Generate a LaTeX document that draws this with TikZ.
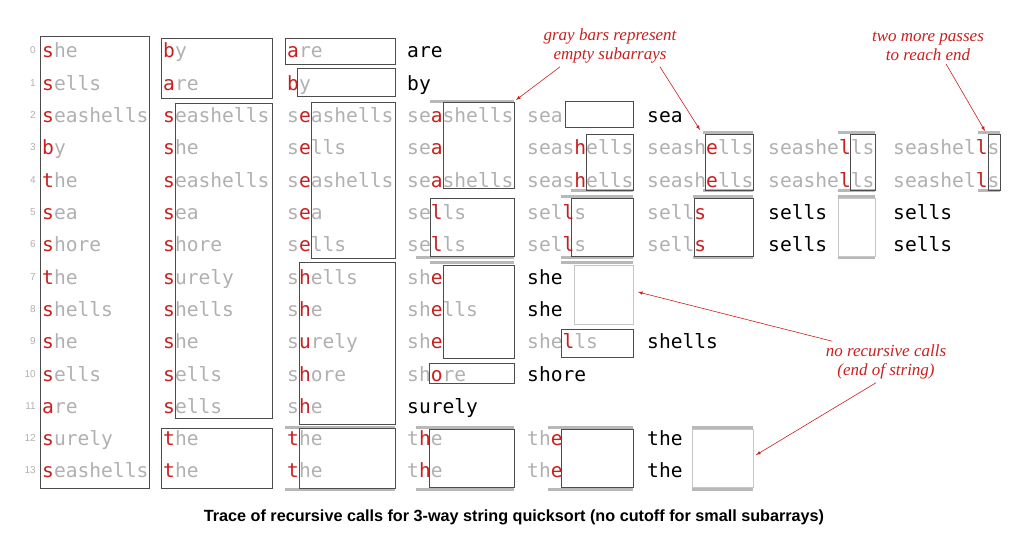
\documentclass[tikz,border=0pt]{standalone}
\usepackage{fontspec}
\usepackage{tikz}
\usetikzlibrary{arrows}
\setmainfont{Liberation Serif}
\setsansfont{Liberation Sans}
\newfontfamily\monofam{DejaVu Sans Mono}
\definecolor{keyred}{HTML}{C8201E}
\definecolor{dimtext}{HTML}{B0B0B0}
\newcommand{\keyword}[3]{{\color{dimtext}#1}{\color{keyred}#2}{\color{dimtext}#3}}
\begin{document}
\begin{tikzpicture}[x=1pt,y=-1pt,
  wd/.style={anchor=base west,inner sep=0pt,font=\monofam\fontsize{19.6}{20}\selectfont},
  idx/.style={anchor=base east,inner sep=0pt,text=dimtext,font=\sffamily\fontsize{10}{10}\selectfont},
  box/.style={draw=black!70,line width=0.8pt},
  ebox/.style={draw=black!22,line width=0.8pt},
  bar/.style={draw=black!28,line width=3pt},
  note/.style={align=center,text=keyred,font=\itshape\fontsize{17}{19}\selectfont},
  ann/.style={draw=keyred,line width=0.6pt,-latex}]
\useasboundingbox (0,0) rectangle (1019,534);
%% indices and first column
\foreach \r/\a/\b/\d in {0//s/he,1//s/ells,2//s/eashells,3//b/y,4//t/he,5//s/ea,6//s/hore,
    7//t/he,8//s/hells,9//s/he,10//s/ells,11//a/re,12//s/urely,13//s/eashells}{
  \node[idx] (i\r) at (36,{54+32.3*\r}) {\r};
  \node[wd] (c0r\r) at (42,{58+32.3*\r}) {\keyword{\a}{\b}{\d}};
}
\foreach \r/\a/\b/\d in {0//b/y,1//a/re,2//s/eashells,3//s/he,4//s/eashells,5//s/ea,6//s/hore,
    7//s/urely,8//s/hells,9//s/he,10//s/ells,11//s/ells,12//t/he,13//t/he}
  \node[wd] (c1r\r) at (163,{58+32.3*\r}) {\keyword{\a}{\b}{\d}};
\foreach \r/\a/\b/\d in {0//a/re,1//b/y,2/s/e/ashells,3/s/e/lls,4/s/e/ashells,5/s/e/a,6/s/e/lls,
    7/s/h/ells,8/s/h/e,9/s/u/rely,10/s/h/ore,11/s/h/e,12//t/he,13//t/he}
  \node[wd] (c2r\r) at (287,{58+32.3*\r}) {\keyword{\a}{\b}{\d}};
\foreach \r/\a/\b/\d in {2/se/a/shells,3/se/a/,4/se/a/shells,5/se/l/ls,6/se/l/ls,
    7/sh/e/,8/sh/e/lls,9/sh/e/,10/sh/o/re,12/t/h/e,13/t/h/e}
  \node[wd] (c3r\r) at (407,{58+32.3*\r}) {\keyword{\a}{\b}{\d}};
\foreach \r/\a/\b/\d in {2/sea//,3/seas/h/ells,4/seas/h/ells,5/sel/l/s,6/sel/l/s,
    9/she/l/ls,12/th/e/,13/th/e/}
  \node[wd] (c4r\r) at (527,{58+32.3*\r}) {\keyword{\a}{\b}{\d}};
\foreach \r/\a/\b/\d in {3/seash/e/lls,4/seash/e/lls,5/sell/s/,6/sell/s/}
  \node[wd] (c5r\r) at (647,{58+32.3*\r}) {\keyword{\a}{\b}{\d}};
\foreach \r/\a/\b/\d in {3/seashe/l/ls,4/seashe/l/ls}
  \node[wd] (c6r\r) at (768,{58+32.3*\r}) {\keyword{\a}{\b}{\d}};
\foreach \r/\a/\b/\d in {3/seashel/l/s,4/seashel/l/s}
  \node[wd] (c7r\r) at (893,{58+32.3*\r}) {\keyword{\a}{\b}{\d}};
%% sorted keys
\foreach \x/\r/\w in {407/0/are,407/1/by,407/11/surely,527/7/she,527/8/she,527/10/shore,
    647/2/sea,647/9/shells,647/12/the,647/13/the,768/5/sells,768/6/sells,893/5/sells,893/6/sells}
  \node[wd] (k\x r\r) at (\x,{58+32.3*\r}) {\w};
%% gray bars
\foreach \xa/\xb/\y in {285/395/427,285/395/489,430/514/102,416/514/258,430/514/263,
    416/514/427,416/514/489,571/633/191,561/633/197,561/633/258,561/633/263,548/633/427,
    548/633/489,703/753/133,703/753/191,693/753/197,693/753/258,692/753/427,692/753/489,
    838/875/133,838/875/191,838/875/197,838/875/258,978/1000/133,978/1000/191}
  \draw[bar] (\xa,\y) -- (\xb,\y);
%% subarray boxes
\foreach \xa/\ya/\xb/\yb in {40/36/149/488,161/38/272/98,175/103/272/418,161/428/272/488,
    285/38/395/64,297/68/395/96,311/102/395/258,299/262/395/424,299/428/395/488,
    443/102/514/188,430/198/514/256,443/265/514/358,429/363/514/383,429/429/514/487,
    565/101/633/127,586/134/633/190,571/198/633/256,561/329/633/357,561/429/633/487,
    705/134/753/190,694/198/753/256,850/134/875/190,988/134/1000/190}
  \draw[box] (\xa,\ya) rectangle (\xb,\yb);
\foreach \xa/\ya/\xb/\yb in {574/265/633/324,692/429/753/487,838/198/875/256}
  \draw[ebox] (\xa,\ya) rectangle (\xb,\yb);
%% annotations
\node[note] (graynote) at (610,46) {gray bars represent\\empty subarrays};
\node[note] (passnote) at (928,46) {two more passes\\to reach end};
\node[note] (endnote) at (886,362) {no recursive calls\\(end of string)};
\coordinate (g1) at (516,100);
\coordinate (g2) at (700,130);
\coordinate (p1) at (985,131);
\coordinate (e1) at (638,292);
\coordinate (e2) at (756,455);
\draw[ann] (graynote.south west) ++(20,0) -- (g1);
\draw[ann] (graynote.south east) ++(-20,0) -- (g2);
\draw[ann] (passnote.south) ++(18,0) -- (p1);
\draw[ann] (endnote.north west) ++(10,0) -- (e1);
\draw[ann] (endnote.south) ++(-10,0) -- (e2);
\node[font=\sffamily\bfseries\fontsize{16.2}{18}\selectfont] (caption) at (514,517)
  {Trace of recursive calls for 3-way string quicksort (no cutoff for small subarrays)};
\end{tikzpicture}
\end{document}
